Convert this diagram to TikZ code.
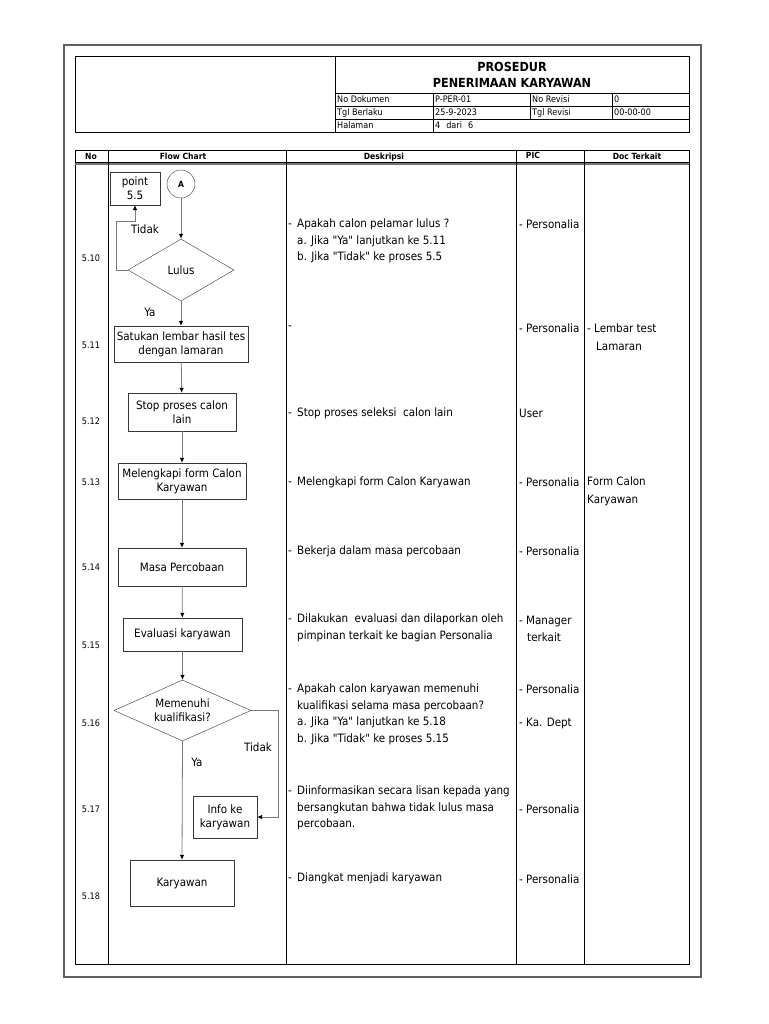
\documentclass[tikz,border=0pt]{standalone}
\usepackage{fontspec}
\setmainfont{DejaVu Sans Condensed}[Ligatures=TeXOff]
\usetikzlibrary{arrows.meta,shapes.geometric,positioning,calc}
\definecolor{framegrey}{RGB}{95,95,95}
\definecolor{linegrey}{RGB}{120,120,120}
\definecolor{boxgrey}{RGB}{55,55,55}
\newcommand{\dsh}{\makebox[9pt][l]{-}}
\newcommand{\ind}{\hspace*{9pt}}

\begin{document}
\begin{tikzpicture}[
    x=1pt, y=-1pt, >=Latex,
    proc/.style={rectangle, draw=boxgrey, fill=white, align=center, inner sep=1pt,
                 font=\fontsize{11.5}{14}\selectfont},
    dec/.style={diamond, draw=boxgrey, fill=white, align=center, inner sep=0pt,
                font=\fontsize{11.5}{14}\selectfont},
    arr/.style={-{Latex[length=5pt,width=4.5pt,black]}, draw=linegrey, line width=0.8pt},
    lbl/.style={font=\fontsize{11.5}{14}\selectfont, inner sep=0pt},
    desc/.style={anchor=west, align=left, inner sep=0pt, font=\fontsize{11.5}{16.5}\selectfont},
    hd/.style={anchor=base, font=\bfseries\fontsize{8.5}{10}\selectfont, inner sep=0pt},
    cell/.style={anchor=base west, inner sep=0pt, font=\fontsize{9}{10}\selectfont},
    num/.style={inner sep=0pt, font=\fontsize{9}{10}\selectfont}
]
\useasboundingbox[fill=white] (0,0) rectangle (768,1024);

% frame and document header
\draw[framegrey, line width=1.8pt] (64,45) rectangle (701,977);
\draw[line width=0.9pt] (75,56) rectangle (689,132);
\draw[line width=0.8pt] (335,56) -- (335,132)
  (335,93) -- (689,93) (335,106) -- (689,106) (335,119) -- (689,119)
  (433,93) -- (433,132) (530,93) -- (530,119) (612,93) -- (612,119);
\node[font=\bfseries\fontsize{12.5}{14}\selectfont, inner sep=0pt] (ttl1) at (512,67) {PROSEDUR};
\node[font=\bfseries\fontsize{12.5}{14}\selectfont, inner sep=0pt] (ttl2) at (512,83) {PENERIMAAN KARYAWAN};
\node[cell] (h1) at (337,103)  {No Dokumen};
\node[cell] (h2) at (435,103)  {P-PER-01};
\node[cell] (h3) at (532,103)  {No Revisi};
\node[cell] (h4) at (614,103)  {0};
\node[cell] (h5) at (337,116) {Tgl Berlaku};
\node[cell] (h6) at (435,116) {25-9-2023};
\node[cell] (h7) at (532,116) {Tgl Revisi};
\node[cell] (h8) at (614,116) {00-00-00};
\node[cell] (h9) at (337,129) {Halaman};
\node[cell] (h10) at (435,129) {4\hspace{6pt}dari\hspace{6pt}6};

% table
\draw[line width=0.9pt] (75,150) rectangle (689,964);
\draw[line width=0.8pt] (75,162) -- (689,162);
\draw[linegrey, line width=2pt] (75,164.5) -- (689,164.5);
\foreach \cx in {108,286,516,584}
  \draw[line width=0.8pt] (\cx,150) -- (\cx,964);
\node[hd] (cNo)  at (91,159.5)  {No};
\node[hd] (cFc)  at (183,159.5) {Flow Chart};
\node[hd] (cDs)  at (384,159.5) {Deskripsi};
\node[hd] (cPic) at (533,158.5) {PIC};
\node[hd] (cDoc) at (637,159.5) {Doc Terkait};

% step numbers
\foreach \nr/\ny in {5.10/258, 5.11/345, 5.12/421, 5.13/482, 5.14/567,
                     5.15/645, 5.16/723, 5.17/809, 5.18/896}
  \node[num] at (91,\ny) {\nr};

% flow chart
\node[proc, minimum width=50, minimum height=33] (pt55) at (135,188.5) {point\\5.5};
\node[circle, draw=boxgrey, minimum size=28, inner sep=0pt,
      font=\bfseries\fontsize{8.5}{10}\selectfont] (ca) at (181,184) {A};
\node[dec, minimum width=106, minimum height=62, aspect=1.7] (lulus) at (181,270) {Lulus};
\node[proc, minimum width=134, minimum height=36] (satukan) at (181,344)
  {Satukan lembar hasil tes\\dengan lamaran};
\node[proc, minimum width=108, minimum height=38] (stop) at (182,412) {Stop proses calon\\lain};
\node[proc, minimum width=128, minimum height=36] (lengkap) at (182,481)
  {Melengkapi form Calon\\Karyawan};
\node[proc, minimum width=128, minimum height=38] (masa) at (182,567) {Masa Percobaan};
\node[proc, minimum width=119, minimum height=33] (eval) at (182.5,634.5) {Evaluasi karyawan};
\node[dec, minimum width=137, minimum height=61, aspect=2.2] (memenuhi) at (182.5,710.5)
  {Memenuhi\\kualifikasi?};
\node[proc, minimum width=64, minimum height=42] (info) at (225,817) {Info ke\\karyawan};
\node[proc, minimum width=104, minimum height=46] (karyawan) at (182,883) {Karyawan};

\node[lbl] (t1) at (145,229) {Tidak};
\node[lbl] (y1) at (150,312) {Ya};
\node[lbl] (t2) at (258,747) {Tidak};
\node[lbl] (y2) at (197,762) {Ya};

\draw[arr] (ca) -- (lulus.north);
\draw[arr] (lulus.west) -| (116,221) -| (pt55.south);
\draw[arr] (lulus.south) -- (satukan.north);
\draw[arr] (satukan) -- (stop);
\draw[arr] (stop) -- (lengkap);
\draw[arr] (lengkap) -- (masa);
\draw[arr] (masa) -- (eval);
\draw[arr] (eval) -- (memenuhi.north);
\draw[arr] (memenuhi.east) -- ++(27,0) |- (info.east);
\draw[arr] (memenuhi.south) -- (karyawan.north);

% deskripsi
\node[desc] (d510) at (288,241) {\dsh Apakah calon pelamar lulus ?\\
  \ind a. Jika "Ya" lanjutkan ke 5.11\\\ind b. Jika "Tidak" ke proses 5.5};
\node[desc] (d511) at (288,328) {-};
\node[desc] (d512) at (288,413) {\dsh Stop proses seleksi\ \ calon lain};
\node[desc] (d513) at (288,482) {\dsh Melengkapi form Calon Karyawan};
\node[desc] (d514) at (288,551) {\dsh Bekerja dalam masa percobaan};
\node[desc] (d515) at (288,628) {\dsh Dilakukan\ \ evaluasi dan dilaporkan oleh\\
  \ind pimpinan terkait ke bagian Personalia};
\node[desc] (d516) at (288,714.5) {\dsh Apakah calon karyawan memenuhi\\
  \ind kualifikasi selama masa percobaan?\\
  \ind a. Jika "Ya" lanjutkan ke 5.18\\\ind b. Jika "Tidak" ke proses 5.15};
\node[desc] (d517) at (288,808) {\dsh Diinformasikan secara lisan kepada yang\\
  \ind bersangkutan bahwa tidak lulus masa\\\ind percobaan.};
\node[desc] (d518) at (288,878) {\dsh Diangkat menjadi karyawan};

% PIC
\node[desc] (p510) at (519,224) {- Personalia};
\node[desc] (p511) at (519,328) {- Personalia};
\node[desc] (p512) at (519,413) {User};
\node[desc] (p513) at (519,482) {- Personalia};
\node[desc] (p514) at (519,551) {- Personalia};
\node[desc] (p515) at (519,629) {- Manager\\\hspace*{8pt}terkait};
\node[desc] (p516) at (519,689) {- Personalia};
\node[desc] (p516b) at (519,723) {- Ka. Dept};
\node[desc] (p517) at (519,809) {- Personalia};
\node[desc] (p518) at (519,879) {- Personalia};

% doc terkait
\node[desc, font=\fontsize{11.5}{18}\selectfont] (c511) at (587,337) {- Lembar test\\\hspace*{9pt}Lamaran};
\node[desc, font=\fontsize{11.5}{18}\selectfont] (c513) at (587,491) {Form Calon\\Karyawan};
\end{tikzpicture}
\end{document}
